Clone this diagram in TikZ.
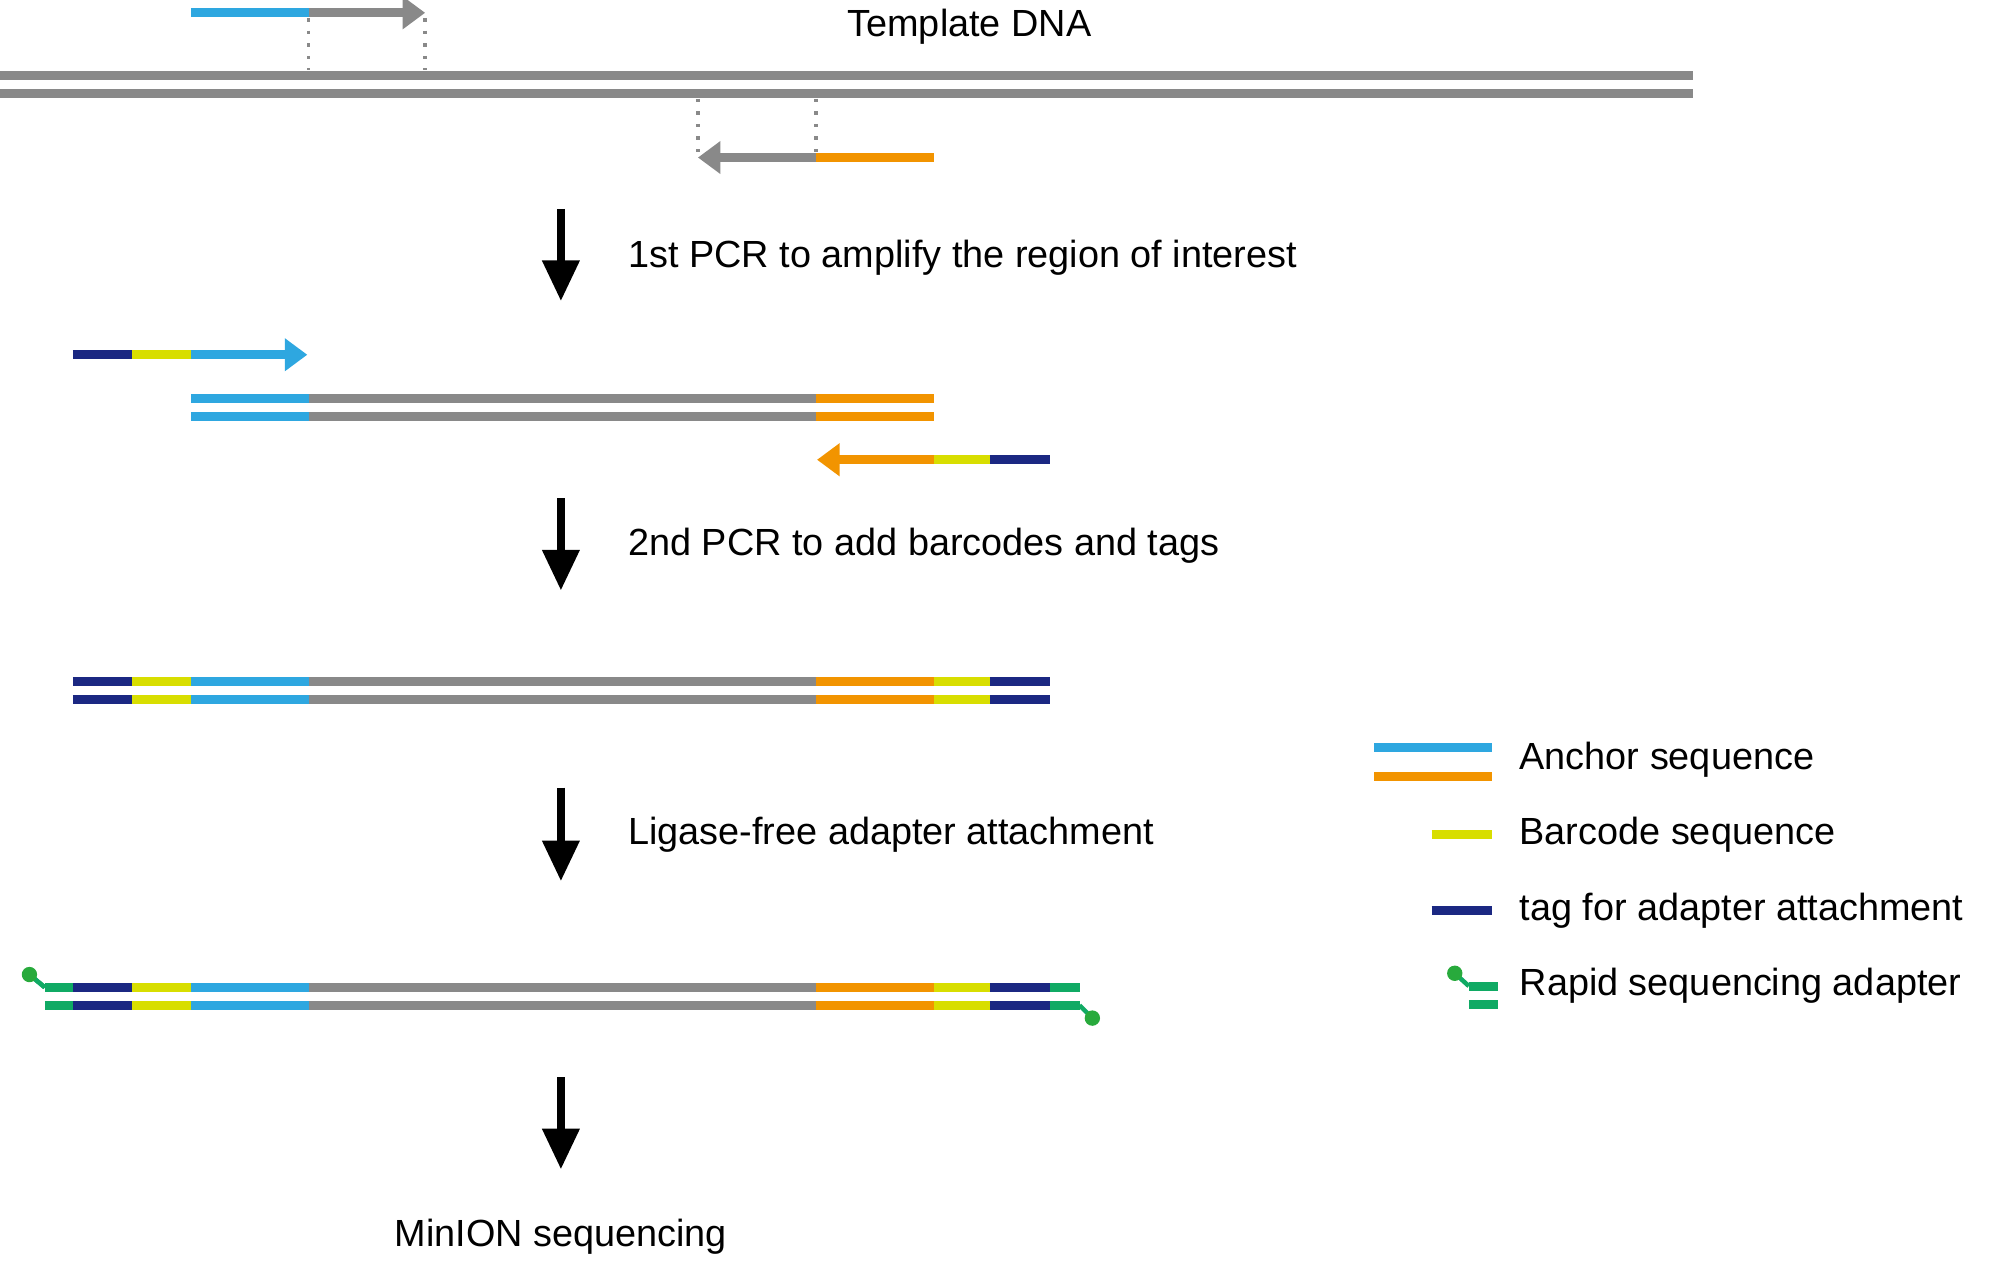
\documentclass[tikz,border=0pt]{standalone}
\usepackage{fontspec}
\setmainfont{Liberation Sans}
\usetikzlibrary{arrows.meta}
\definecolor{anchorblue}{RGB}{46,167,224}
\definecolor{anchororange}{RGB}{242,148,0}
\definecolor{barcode}{RGB}{216,222,0}
\definecolor{tagnavy}{RGB}{27,40,130}
\definecolor{adaptgreen}{RGB}{16,170,100}
\definecolor{dotgreen}{RGB}{40,170,60}
\definecolor{dnagray}{RGB}{137,137,137}
\tikzset{
  strand/.style={line width=2pt},
  primer/.style={line width=2pt, -{Triangle[length=5pt,width=7pt]}},
  guide/.style={dotted, thick, dnagray},
  steparrow/.style={line width=1.6pt, -{Triangle[length=9pt,width=8pt]}},
  txt/.style={font=\fontsize{8.4}{10}\selectfont, inner sep=0pt},
}
% #1 = y, list of x1/x2/colour
\newcommand{\dnaline}[2]{\foreach \xa/\xb/\col in {#2} \draw[strand, \col] (\xa,#1) -- (\xb,#1);}
\begin{document}
\begin{tikzpicture}[x=0.01cm, y=-0.01cm]
  \useasboundingbox (0,0) rectangle (1568,990);
  % template
  \dnaline{59}{0/1322/dnagray}
  \dnaline{73}{0/1322/dnagray}
  \node[txt] (tmpl) at (757,21) {Template DNA};
  \draw[strand, anchorblue] (149,10) -- (241,10);
  \draw[primer, dnagray] (241,10) -- (332,10);
  \draw[guide] (241,14) -- (241,55);
  \draw[guide] (332,14) -- (332,55);
  \draw[strand, anchororange] (637,123) -- (729,123);
  \draw[primer, dnagray] (637,123) -- (545,123);
  \draw[guide] (545,77) -- (545,119);
  \draw[guide] (637,77) -- (637,119);
  % step 1
  \coordinate (s1a) at (438,163);
  \coordinate (s1b) at (438,235);
  \draw[steparrow] (s1a) -- (s1b);
  \node[txt, anchor=west] (t1) at (490,201) {1st PCR to amplify the region of interest};
  \dnaline{277}{57/103/tagnavy, 103/149/barcode}
  \draw[primer, anchorblue] (149,277) -- (240,277);
  \dnaline{311}{149/241/anchorblue, 241/637/dnagray, 637/729/anchororange}
  \dnaline{325}{149/241/anchorblue, 241/637/dnagray, 637/729/anchororange}
  \dnaline{359}{729/773/barcode, 773/820/tagnavy}
  \draw[primer, anchororange] (729,359) -- (638,359);
  % step 2
  \coordinate (s2a) at (438,389);
  \coordinate (s2b) at (438,461);
  \draw[steparrow] (s2a) -- (s2b);
  \node[txt, anchor=west] (t2) at (490,426) {2nd PCR to add barcodes and tags};
  \foreach \yy in {532,546}
    \dnaline{\yy}{57/103/tagnavy, 103/149/barcode, 149/241/anchorblue, 241/637/dnagray, 637/729/anchororange, 729/773/barcode, 773/820/tagnavy}
  % step 3
  \coordinate (s3a) at (438,615);
  \coordinate (s3b) at (438,688);
  \draw[steparrow] (s3a) -- (s3b);
  \node[txt, anchor=west] (t3) at (490,652) {Ligase-free adapter attachment};
  \foreach \yy in {771,785}
    \dnaline{\yy}{35/57/adaptgreen, 57/103/tagnavy, 103/149/barcode, 149/241/anchorblue, 241/637/dnagray, 637/729/anchororange, 729/773/barcode, 773/820/tagnavy, 820/843/adaptgreen}
  \draw[adaptgreen, line width=1pt] (23,761) -- (35,771);
  \fill[dotgreen] (23,761) circle (6);
  \draw[adaptgreen, line width=1pt] (843,785) -- (853,795);
  \fill[dotgreen] (853,795) circle (6);
  % step 4
  \coordinate (s4a) at (438,841);
  \coordinate (s4b) at (438,913);
  \draw[steparrow] (s4a) -- (s4b);
  \node[txt] (t4) at (438,966) {MinION sequencing};
  % legend
  \dnaline{584}{1073/1165/anchorblue}
  \dnaline{606}{1073/1165/anchororange}
  \dnaline{652}{1118/1165/barcode}
  \dnaline{711}{1118/1165/tagnavy}
  \dnaline{770}{1147/1170/adaptgreen}
  \dnaline{784}{1147/1170/adaptgreen}
  \draw[adaptgreen, line width=1pt] (1136,760) -- (1147,770);
  \fill[dotgreen] (1136,760) circle (6);
  \node[txt, anchor=west] (l1) at (1186,593) {Anchor sequence};
  \node[txt, anchor=west] (l2) at (1186,652) {Barcode sequence};
  \node[txt, anchor=west] (l3) at (1186,711) {tag for adapter attachment};
  \node[txt, anchor=west] (l4) at (1186,770) {Rapid sequencing adapter};
\end{tikzpicture}
\end{document}
